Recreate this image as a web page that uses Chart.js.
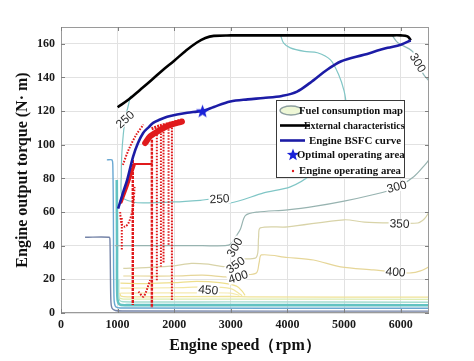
<!DOCTYPE html>
<html><head><meta charset="utf-8">
<script src="https://cdn.jsdelivr.net/npm/chart.js@4/dist/chart.umd.min.js"></script>
<style>html,body{margin:0;padding:0;background:#fff}canvas{display:block}</style>
</head><body>
<canvas id="c" width="474" height="361"></canvas>
<script>
// ---------- data ----------
const xTickValues = [0,1000,2000,3000,4000,5000,6000];
const yTickValues = [0,20,40,60,80,100,120,140,160];

const externalRpm    = [1000,1200,1400,1600,1800,2000,2200,2400,2550,2700,3000,3500,4000,4500,5000,5500,5800,6000,6120,6180];
const externalTorque = [122.3,127,132.7,138.5,144.5,150,155.8,160.8,163.5,164.7,165,165,165,165,165,165,165,165,164.4,162];

const bsfcRpm    = [1009,1100,1168,1274,1360,1451,1550,1628,1750,1876,2050,2230,2400,2513,2700,2990,3300,3575,3900,4170,4400,4700,4940,5350,5770,6000,6177];
const bsfcTorque = [62,72,79,93,101,107,110.5,113,115,116.6,118,119,119.7,120.2,122.5,125.7,127,127.8,129,131.6,136.8,144.6,149.5,153.5,157.6,159.5,162];

const optimalRpm = [2500];
const optimalTorque = [120];

// operating area (red)
const opVertical = [
  [[1268,91],[1268,4.8]],
  [[1605,103],[1605,3]],
  [[1693,106],[1693,18.6]],
  [[1765,108.5],[1765,27.6]],
  [[1811,109.5],[1811,30]],
  [[1900,111],[1900,40]],
  [[1959,112],[1959,7.7]],
  [[1074,56.5],[1074,37.5]]
];
const opDotted = [
  [[1092,88],[1200,97.5],[1330,106],[1457,112]],
  [[1044,60],[1070,53],[1133,51.3],[1200,54],[1268,62],[1300,75]],
  [[1369,12.7],[1457,9.7],[1575,19.6]]
];
const opThick = [
  [[1487,101],[1575,105],[1752,108.9],[1929,111.8],[2136,113.8]],
  [[1060,66],[1170,76],[1290,88]],
  [[1290,88.5],[1605,88.5]]
];
const opThin = [
  [[1600,109.5],[1750,111.3],[1950,113],[2136,114.8]]
];

// fuel consumption contours (rpm, torque)
const contour250 = [[1230,129],[1200,125],[1133,115],[1100,106],[1075,95],[1065,82],[1080,69],[1270,66],[1450,65.4],[2000,66],[2460,67],[2800,68],[2990,65.4],[3580,71.4],[4050,75],[4400,82],[4700,95],[4950,112],[5030,124],[5000,132],[4900,142],[4760,150.5],[4530,154.7],[4300,155.5],[4050,157.6],[3930,160.6],[3880,165]];
const contour300a = [[5850,165],[5950,160.6],[6150,157],[6230,154.7],[6300,149],[6400,142],[6500,138]];
const contour300b = [[955,40],[1500,40],[2000,40],[2500,40],[2900,40],[3000,41],[3100,46],[3170,50],[3260,58],[3470,60],[4000,61.3],[4500,63.5],[5000,66.5],[5470,70],[5900,74],[6230,81],[6400,87],[6500,91]];
const contour350 = [[1100,26.5],[1500,27],[2000,28],[2300,29.5],[2600,29],[2900,27.5],[3050,29],[3200,32],[3450,33],[3490,45],[3520,50.6],[4000,51.2],[5000,55.4],[5360,54],[5900,53.5],[6300,53.5],[6420,56],[6500,60]];
const contour400 = [[1100,22],[2000,22],[2500,22.5],[2900,21.5],[3100,21.5],[3200,22.5],[3450,23.8],[3500,30],[3540,34.5],[4000,33],[4460,31.5],[4940,27.4],[5520,25.6],[5900,24.4],[6180,23.8],[6350,25],[6500,27.4]];
const contour450 = [[1050,17.7],[1500,17.5],[2000,18],[2400,18.8],[2800,18],[3100,16],[3200,13],[3250,10.5]];
const contour500 = [[1050,14.8],[2000,15],[2600,15.5],[3000,14.5],[3150,11.5],[3200,10.3]];
const contour550 = [[1060,11.8],[2500,12],[3000,11.8],[3150,10.5]];
const contourB1 = [[1040,12],[1060,10],[1200,9.6],[3000,9.8],[3300,9.6],[6500,9.4]];
const contourB2 = [[1030,9],[1100,8.3],[3000,8.3],[6500,8.1]];
const contourB3 = [[1020,20],[1030,8],[1100,6.7],[3000,6.6],[6500,6.4]];
const contourB4 = [[985,79],[990,40],[995,10],[1030,5.2],[1200,4.7],[3000,4.7],[6500,4.6]];
const contourB5 = [[810,91],[900,91],[915,88],[925,60],[935,10],[960,4],[1050,3],[6500,2.8]];
const contourB6 = [[425,45],[850,45],[865,43],[880,8],[900,3],[960,1.5],[1100,1.2],[6500,1.1]];

const contourLabelText   = ['250','250','300','300','350','400','450','350','400','300'];
const contourLabelRpm    = [1133,2800,6300,3070,3085,3130,2600,5980,5910,5930];
const contourLabelTorque = [115,67.8,148.7,39,28.5,21.4,13.7,53,24.4,75];

const legendLabels = ['Fuel consumption map','External characteristics','Engine BSFC curve','Optimal operating area','Engine operating area'];

// ---------- helpers ----------
const pts = arr => arr.map(p => ({x:p[0], y:p[1]}));
const zip = (xs, ys) => xs.map((x,i) => ({x, y:ys[i]}));
const RED = '#e01a1c', BLUE = '#1c1ca6', STAR = '#1a22d8';

function starPath(ctx, cx, cy, R, r) {
  ctx.beginPath();
  for (let i = 0; i < 10; i++) {
    const rad = i % 2 ? r : R;
    const a = -Math.PI/2 + i*Math.PI/5;
    const px = cx + rad*Math.cos(a), py = cy + rad*Math.sin(a);
    i ? ctx.lineTo(px,py) : ctx.moveTo(px,py);
  }
  ctx.closePath();
}
const starImg = document.createElement('canvas');
starImg.width = 15; starImg.height = 15;
(function(){ const c = starImg.getContext('2d'); c.fillStyle = STAR; starPath(c, 7.5, 8, 7, 2.9); c.fill(); })();

// ---------- datasets ----------
const datasets = [];
datasets.push({data: zip(optimalRpm, optimalTorque), showLine:false, pointStyle: starImg, pointRadius:7, borderWidth:0});
datasets.push({data: zip(bsfcRpm, bsfcTorque), borderColor: BLUE, borderWidth:2.6, pointRadius:0, tension:0.35, cubicInterpolationMode:'monotone'});
datasets.push({data: zip(externalRpm, externalTorque), borderColor:'#000', borderWidth:2.6, pointRadius:0, tension:0.4});
opThick.forEach((s,i) => datasets.push({data: pts(s), borderColor: RED, borderWidth: i===0?6:(i===1?3.5:2), pointRadius:0, tension:0.3, borderCapStyle:'round'}));
opThin.forEach(s => datasets.push({data: pts(s), borderColor: RED, borderWidth:3, pointRadius:0, tension:0.3, borderDash:[2,1]}));
opVertical.forEach((s,i) => datasets.push({data: pts(s), borderColor: RED, borderWidth: i<2?2.4:2, pointRadius:0, borderDash: i<2?[3,1]:[1.6,1.4]}));
opDotted.forEach(s => datasets.push({data: pts(s), borderColor: RED, borderWidth:2, pointRadius:0, tension:0.3, borderDash:[1.6,1.4]}));
const firstContour = datasets.length;
const contours = [
  [contour250,'#80c6c6',1.2],[contour300a,'#8fb8b8',1.2],[contour300b,'#97b3b0',1.2],
  [contour350,'#d8d3a8',1.2],[contour400,'#e6d698',1.2],[contour450,'#eedf8c',1.2],
  [contour500,'#f2e6a0',1.2],[contour550,'#f5eab0',1.2],
  [contourB1,'#f0e296',1.3],[contourB2,'#dcecb4',1.3],[contourB3,'#a6dccf',1.4],
  [contourB4,'#62c2c2',2.6],[contourB5,'#6aa8d2',1.4],[contourB6,'#7584a8',1.4]
];
contours.forEach(c => datasets.push({data: pts(c[0]), borderColor: c[1], borderWidth: c[2], pointRadius:0, tension:0.3}));

// ---------- plugin ----------
function stretchText(ctx, text, x0, x1, y) {
  const w = ctx.measureText(text).width;
  ctx.save(); ctx.translate(x0, y); ctx.scale((x1-x0)/w, 1);
  ctx.fillText(text, 0, 0); ctx.restore();
}
const decor = {
  id:'decor',
  afterDatasetDraw(chart, args) {
    if (args.index !== firstContour) return;
    const ctx = chart.ctx, xs = chart.scales.x, ys = chart.scales.y, a = chart.chartArea;
    const angles = [-42,-3,58,-60,-35,-18,5,2,5,-15];
    ctx.save();
    ctx.beginPath(); ctx.rect(a.left, a.top, a.right-a.left, a.bottom-a.top); ctx.clip();
    ctx.font = '12px "Liberation Sans", Arial, sans-serif';
    ctx.textAlign = 'center'; ctx.textBaseline = 'middle';
    contourLabelText.forEach((t,i) => {
      const px = xs.getPixelForValue(contourLabelRpm[i]), py = ys.getPixelForValue(contourLabelTorque[i]);
      ctx.save(); ctx.translate(px, py); ctx.rotate(angles[i]*Math.PI/180);
      const w = ctx.measureText(t).width;
      ctx.fillStyle = '#fff'; ctx.fillRect(-w/2-1, -5, w+2, 10);
      ctx.fillStyle = '#2a2a2a'; ctx.fillText(t, 0, 0.5);
      ctx.restore();
    });
    ctx.restore();
  },
  afterDraw(chart) {
    const ctx = chart.ctx, a = chart.chartArea, xs = chart.scales.x, ys = chart.scales.y;
    ctx.save();
    // frame
    ctx.strokeStyle = '#9a9a9a'; ctx.lineWidth = 1;
    ctx.strokeRect(Math.round(a.left)+0.5, Math.round(a.top)+0.5, Math.round(a.right-a.left)-1, Math.round(a.bottom-a.top)-1);
    // inward ticks
    ctx.strokeStyle = '#808080'; ctx.beginPath();
    xTickValues.forEach(v => { const x = Math.round(xs.getPixelForValue(v))+0.5;
      ctx.moveTo(x, a.bottom); ctx.lineTo(x, a.bottom-4); ctx.moveTo(x, a.top); ctx.lineTo(x, a.top+4); });
    yTickValues.forEach(v => { const y = Math.round(ys.getPixelForValue(v))+0.5;
      ctx.moveTo(a.left, y); ctx.lineTo(a.left+4, y); ctx.moveTo(a.right, y); ctx.lineTo(a.right-4, y); });
    ctx.stroke();
    // legend
    const L = 276.5, T = 100.5, W = 128, H = 77;
    ctx.fillStyle = '#fff'; ctx.fillRect(L, T, W, H);
    ctx.strokeStyle = '#3a3a3a'; ctx.strokeRect(L, T, W, H);
    const rowsY = [110.5, 125.5, 140.5, 155, 171];
    const textX0 = [299, 304, 309, 297, 299];
    const textX1 = [403, 404.5, 401, 404.5, 401];
    ctx.beginPath(); ctx.ellipse(291, rowsY[0], 11, 4.5, 0, 0, Math.PI*2);
    ctx.fillStyle = '#eef7d6'; ctx.fill(); ctx.strokeStyle = '#8c9e9e'; ctx.lineWidth = 1.4; ctx.stroke();
    ctx.lineWidth = 2.6; ctx.strokeStyle = '#000'; ctx.beginPath(); ctx.moveTo(280, rowsY[1]); ctx.lineTo(310, rowsY[1]); ctx.stroke();
    ctx.strokeStyle = BLUE; ctx.beginPath(); ctx.moveTo(280, rowsY[2]); ctx.lineTo(305, rowsY[2]); ctx.stroke();
    ctx.fillStyle = STAR; starPath(ctx, 293, rowsY[3], 6.5, 2.7); ctx.fill();
    ctx.fillStyle = RED; ctx.beginPath(); ctx.arc(293, rowsY[4], 1.2, 0, Math.PI*2); ctx.fill();
    ctx.fillStyle = '#111'; ctx.font = 'bold 10px "Liberation Serif", "Times New Roman", serif';
    ctx.textBaseline = 'middle'; ctx.textAlign = 'left';
    legendLabels.forEach((t,i) => stretchText(ctx, t, textX0[i], textX1[i], rowsY[i]+0.5));
    ctx.restore();
  }
};

const tickFont = {family:'"Liberation Serif", "Times New Roman", serif', size:12, weight:'bold'};
new Chart(document.getElementById('c'), {
  type:'line',
  data:{datasets},
  options:{
    responsive:false, devicePixelRatio:1, animation:false, parsing:true,
    layout:{padding:{top:27, right:45, left:0, bottom:0}},
    plugins:{legend:{display:false}, tooltip:{enabled:false}},
    elements:{line:{fill:false}},
    scales:{
      x:{type:'linear', min:0, max:6500,
        afterBuildTicks: s => { s.ticks = xTickValues.map(v => ({value:v})); },
        afterFit: s => { s.height = 48; },
        ticks:{font:tickFont, color:'#1a1a1a', padding:5, maxRotation:0, autoSkip:false, callback: v => String(v)},
        grid:{color:'#e2e2e2', drawTicks:false}, border:{display:false},
        title:{display:true, text:'Engine speed（rpm）', color:'#111',
          font:{family:'"Liberation Serif", "Times New Roman", serif', size:16, weight:'bold'}, padding:{top:0,bottom:6}}
      },
      y:{type:'linear', min:0, max:170,
        afterBuildTicks: s => { s.ticks = yTickValues.map(v => ({value:v})); },
        afterFit: s => { s.width = 61; },
        ticks:{font:tickFont, color:'#1a1a1a', padding:6, autoSkip:false, callback: v => String(v)},
        grid:{color:'#e2e2e2', drawTicks:false}, border:{display:false},
        title:{display:true, text:'Engine output torque (N· m)', color:'#111',
          font:{family:'"Liberation Serif", "Times New Roman", serif', size:16, weight:'bold'}, padding:{top:13,bottom:0}}
      }
    }
  },
  plugins:[decor]
});
</script>
</body></html>
